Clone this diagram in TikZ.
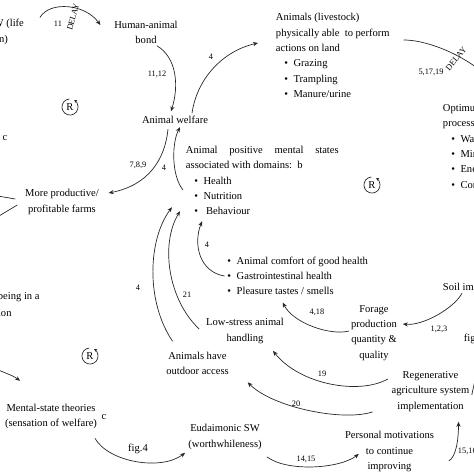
\documentclass[tikz,border=0pt]{standalone}
\usepackage{fontspec}
\setmainfont{Liberation Serif}
\usetikzlibrary{arrows.meta, calc}
\tikzset{
    concept/.style={
        font=\fontsize{7.6}{11}\selectfont,
        inner sep=0.5pt, align=center
    },
    block/.style={
        font=\fontsize{7.6}{11}\selectfont,
        inner sep=0.5pt, align=left, anchor=west
    },
    edgelabel/.style={font=\fontsize{6}{7}\selectfont, inner sep=0.5pt},
    causal/.style={draw=black!85, line width=0.5pt, -{Stealth[length=3.6pt, width=3pt]}},
    loopmark/.style={font=\fontsize{7.6}{9}\selectfont, inner sep=0pt},
    looparrow/.style={draw=black!85, line width=0.5pt, -{Stealth[length=2.2pt, width=2.2pt]}}
}
\newcommand{\bul}{\textbullet\hspace{4pt}}
\newcommand{\ibul}{\hspace*{6pt}\bul}

\begin{document}
\begin{tikzpicture}[x=0.025316cm, y=-0.025316cm]
\useasboundingbox (0,0) rectangle (474,474);
\clip (0,0) rectangle (474,474);

% Wellbeing views (cut by the frame)
\node[concept] (evaluative) at (-18,32) {Evaluative SW (life\\ satisfaction)};
\node[concept] (cleft) at (5,138) {c};
\node[concept, anchor=east] (naturala) at (40.5,297) {Natural living (being in a};
\node[concept, anchor=east] (naturalb) at (12.5,313) {natural situation};
\node[concept] (mentaltheory) at (51,416.5) {Mental-state theories\\ (sensation of welfare)};
\node[concept] (ctheory) at (104,417) {c};
\node[concept] (eudai) at (225,437) {Eudaimonic SW\\ (worthwhileness)};

% Animal side
\node[concept] (bond) at (146,32.5) {Human-animal\\ bond};
\node[concept] (welfare) at (175,120) {Animal welfare};
\node[concept] (productive) at (62,202) {More productive/\\ profitable farms};
\node[block] (livestock) at (275,55.5) {Animals (livestock)\\ physically able\ \ to perform\\ actions on land\\
    \ibul Grazing\\ \ibul Trampling\\ \ibul Manure/urine};
\node[block] (mental) at (185,180.5) {\makebox[110pt][s]{Animal positive mental states}\\ associated with domains:\ \ b\\
    \ibul Health\\ \ibul Nutrition\\ \ibul\ Behaviour};
\node[block] (comfort) at (226.5,276) {\bul Animal comfort of good health\\ \bul Gastrointestinal health\\ \bul Pleasure tastes / smells};
\node[concept] (lowstress) at (245,331) {Low-stress animal\\ handling};
\node[concept] (outdoor) at (197.5,363.5) {Animals have\\ outdoor access};

% Land and farm system
\node[block] (ecosys) at (442,147.5) {Optimum ecosystem\\ processes:\\ \ibul Water cycle\\ \ibul Mineral cycle\\
    \ibul Energy flow\\ \ibul Community dynamics};
\node[block] (soil) at (442,288) {Soil improvement};
\node[concept] (forage) at (374,333) {Forage\\ production\\ quantity \&\\ quality};
\node[concept] (regen) at (430.5,391.5) {Regenerative\\ agriculture system\\ implementation};
\node[concept] (personal) at (389.5,451.5) {Personal motivations\\ to continue\\ improving};

% Reinforcing loops
\node[loopmark] (loopa) at (70,107) {R};
\node[loopmark] (loopb) at (372,185) {R};
\node[loopmark] (loopc) at (90,356) {R};
\draw[looparrow] ([shift={(95:5.8pt)}]loopa.center) arc[start angle=95, end angle=420, radius=5.8pt];
\draw[looparrow] ([shift={(95:5.8pt)}]loopb.center) arc[start angle=95, end angle=420, radius=5.8pt];
\draw[looparrow] ([shift={(95:5.8pt)}]loopc.center) arc[start angle=95, end angle=420, radius=5.8pt];

% Free ends outside the frame
\coordinate (soilin) at (488,318);
\coordinate (leftin) at (-6,368);
\coordinate (outa) at (-8,195);
\coordinate (outb) at (-6,219);

% Links
\draw[causal] ($(evaluative.north east)+(15,-1)$) .. controls +(10,-17) and +(-15,-21) .. ($(bond.west)+(-13,-7.5)$);
\draw[causal] ($(bond.south)+(11,1)$) .. controls +(20,12) and +(8,-25) .. ($(welfare.north)+(-4,-4)$);
\draw[causal] ($(welfare.north)+(17,-2)$) .. controls +(5,-35) and +(-35,8) .. ($(livestock.west)+(-17,-12.5)$);
\draw[causal] ($(livestock.east)+(13,-15.5)$) .. controls +(35,0) and +(-5,-30) .. ($(ecosys.north)+(3,-2)$);
\draw[causal] ($(welfare.south)+(-7,4.5)$) .. controls +(-3,30) and +(40,-8) .. ($(productive.east)+(9,-9)$);
\draw[causal] ($(productive.west)+(-9,-3)$) -- (outa);
\draw[causal] ($(productive.west)+(-7,3)$) -- (outb);
\draw[causal] ($(mental.west)+(-2,9.5)$) .. controls +(-12,-15) and +(-8,15) .. ($(welfare.south)+(5,2.5)$);
\draw[causal] ($(comfort.west)+(-2,0)$) .. controls +(-25,-4) and +(-9,23) .. ($(mental.south west)+(17,5.5)$);
\draw[causal] ($(outdoor.north)+(-25,-10)$) .. controls +(-27,-40) and +(-24,32) .. ($(mental.south west)+(-13,-8.5)$);
\draw[causal] ($(lowstress.west)+(-6,-2)$) .. controls +(-31,-29) and +(-20,33) .. ($(mental.south west)+(-5,-4.5)$);
\draw[causal] ($(forage.west)+(-1,-2)$) .. controls +(-20,5) and +(10,20) .. ($(comfort.south)+(-15,6.5)$);
\draw[causal] ($(soil.south west)+(20,-0.5)$) .. controls +(-8,15) and +(20,2) .. ($(forage.east)+(5,-9)$);
\draw[causal] ($(regen.west)+(-3,-12.5)$) .. controls +(-28,16) and +(27,34) .. ($(lowstress.south)+(28,6.5)$);
\draw[causal] ($(regen.south west)+(-18,-0.5)$) .. controls +(-30,10) and +(25,25) .. ($(outdoor.south east)+(18,6.5)$);
\draw[causal] ($(regen.east)+(1.5,3.5)$) .. controls +(3,-15) and +(-3,20) .. (soilin);
\draw[causal] (leftin) .. controls +(8,4) and +(-8,-6) .. ($(mentaltheory.north west)+(16,-22.3)$);
\draw[causal] ($(mentaltheory.south east)+(-3,8.5)$) .. controls +(14,24) and +(-24,18) .. ($(eudai.south west)+(-2.3,2.5)$);
\draw[causal] ($(eudai.south east)+(4.3,6.5)$) .. controls +(20,15) and +(-20,15) .. ($(personal.west)+(14.7,2.5)$);
\draw[causal] ($(personal.east)+(14,9.5)$) .. controls +(8,-5) and +(0,15) .. ($(regen.south)+(28,9.5)$);

% Link labels
\node[edgelabel] (l11) at (58,24) {11};
\node[edgelabel, rotate=75] (ldelaya) at (73,17) {DELAY};
\node[edgelabel] (l1112) at (157,74) {11,12};
\node[edgelabel] (l4a) at (211,57) {4};
\node[edgelabel] (l51719) at (431,72) {5,17,19};
\node[edgelabel, rotate=50] (ldelayb) at (456,59) {DELAY};
\node[edgelabel] (l789) at (138,165) {7,8,9};
\node[edgelabel] (l4b) at (164,168) {4};
\node[edgelabel] (l4c) at (207,245) {4};
\node[edgelabel] (l4d) at (138,288) {4};
\node[edgelabel] (l21) at (187,295) {21};
\node[edgelabel] (l418) at (317,312) {4,18};
\node[edgelabel] (l123) at (439,329) {1,2,3};
\node[concept, anchor=west] (lfig3) at (463,339) {fig.3};
\node[edgelabel] (l19) at (322,374) {19};
\node[edgelabel] (l20) at (296,404) {20};
\node[concept] (lfig4) at (138,449) {fig.4};
\node[edgelabel] (l1415) at (306,459) {14,15};
\node[edgelabel, anchor=west] (l1516) at (457,451) {15,16};

\end{tikzpicture}
\end{document}
